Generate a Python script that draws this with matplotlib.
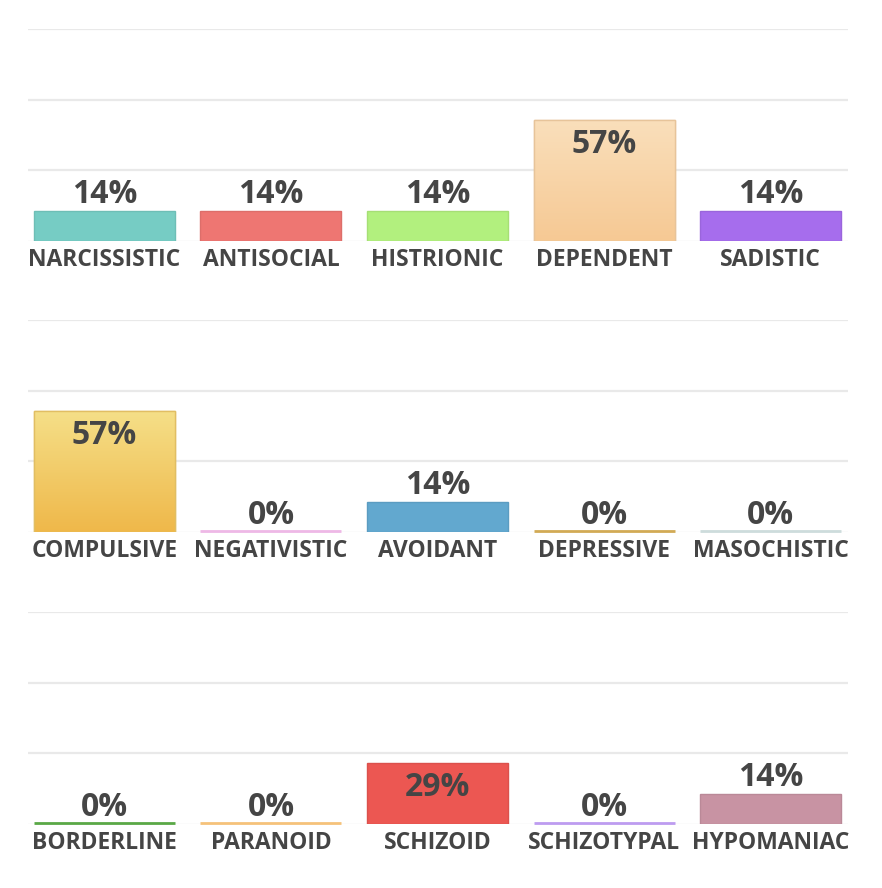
import matplotlib
matplotlib.use("Agg")
import matplotlib.pyplot as plt
import numpy as np
from matplotlib.colors import to_rgb, LinearSegmentedColormap

plt.rcParams['font.family'] = ['Open Sans', 'DejaVu Sans']

row1_labels = ["NARCISSISTIC", "ANTISOCIAL", "HISTRIONIC", "DEPENDENT", "SADISTIC"]
row1_values = [14, 14, 14, 57, 14]
row1_colors = ["#76ccc4", "#ee7672", "#b2f07e", "#f8d3a6", "#a66ded"]
row1_grad = [None, None, None, ("#fadfbb", "#f6c994"), None]

row2_labels = ["COMPULSIVE", "NEGATIVISTIC", "AVOIDANT", "DEPRESSIVE", "MASOCHISTIC"]
row2_values = [57, 0, 14, 0, 0]
row2_colors = ["#f2cc6a", "#eeb8e6", "#62a8cf", "#d2aa55", "#cddcdc"]
row2_grad = [("#f5df88", "#efb84a"), None, None, None, None]

row3_labels = ["BORDERLINE", "PARANOID", "SCHIZOID", "SCHIZOTYPAL", "HYPOMANIAC"]
row3_values = [0, 0, 29, 0, 14]
row3_colors = ["#5aa846", "#f5c27a", "#ec5752", "#bd9cf0", "#c893a3"]
row3_grad = [None, None, None, None, None]

rows = [
    (row1_labels, row1_values, row1_colors, row1_grad),
    (row2_labels, row2_values, row2_colors, row2_grad),
    (row3_labels, row3_values, row3_colors, row3_grad),
]

W, H = 882, 888
fig = plt.figure(figsize=(W / 100, H / 100), dpi=100)
fig.patch.set_facecolor("white")

row_tops = [29, 320, 612]
row_h = 212
x_left, x_right = 28, 848
text_color = "#454545"
bw = 0.847

for (labels, values, colors, grads), top in zip(rows, row_tops):
    bottom = top + row_h
    ax = fig.add_axes([x_left / W, 1 - bottom / H, (x_right - x_left) / W, row_h / H])
    ax.set_xlim(-0.459, 4.465)
    ax.set_ylim(0, 100)
    ax.axis("off")
    for gy in [100 / 3, 200 / 3, 100]:
        ax.axhline(gy, color="#e9e9e9", lw=1.6, zorder=0)
    ax.axhline(0, color="#efefef", lw=1.0, zorder=0)
    for i, (v, c, g, lab) in enumerate(zip(values, colors, grads, labels)):
        rgb = np.array(to_rgb(c))
        edge = tuple(rgb * 0.93)
        bars = ax.bar(i, v, width=bw, color=c, edgecolor=edge, lw=1.0 if v else 0, zorder=2)
        b = bars[0]
        if v == 0:
            ax.hlines(0.4, b.get_x(), b.get_x() + b.get_width(), colors=c, lw=2.0,
                      zorder=3, clip_on=False)
        elif g is not None:
            cmap = LinearSegmentedColormap.from_list("g", [g[1], g[0]])
            grad = np.linspace(0, 1, 256).reshape(-1, 1)
            im = ax.imshow(grad, cmap=cmap, aspect="auto", origin="lower",
                           extent=[b.get_x(), b.get_x() + b.get_width(), 0, v],
                           zorder=2.5)
            im.set_clip_path(b)
            ax.bar(i, v, width=bw, facecolor="none", edgecolor=edge, lw=1.0, zorder=3)
        txt = f"{v}%"
        if v > 20:
            ax.annotate(txt, xy=(i, v), xytext=(0, -6), textcoords="offset points",
                        ha="center", va="top", fontsize=23, fontweight="bold",
                        color=text_color, zorder=5)
        else:
            ax.annotate(txt, xy=(i, v), xytext=(0, 0), textcoords="offset points",
                        ha="center", va="bottom", fontsize=23, fontweight="bold",
                        color=text_color, zorder=5)
        ax.annotate(lab, xy=(i, 0), xytext=(0, -5), textcoords="offset points",
                    ha="center", va="top", fontsize=16.5, fontweight="bold",
                    color=text_color, zorder=5)

fig.savefig("out.png", dpi=100, facecolor="white")
